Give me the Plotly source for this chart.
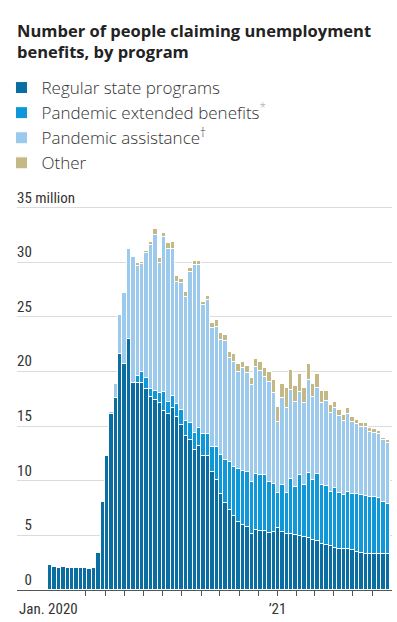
import pandas as pd
import plotly.graph_objects as go

# Week-ending dates (weekly, starting first week of Jan 2020)
weeks = pd.date_range("2020-01-04", periods=78, freq="7D")

regular_state = [2.25, 2.13, 2.0, 2.09, 2.0, 2.0, 2.0, 2.0, 2.0, 1.88,
                 1.97, 3.38, 8.06, 12.3, 16.1, 17.6, 21.6, 20.7, 23.0, 18.92,
                 18.92, 18.92, 18.45, 17.63, 17.39, 17.15, 16.37, 16.16, 16.71, 15.86,
                 15.1, 14.08, 13.72, 12.86, 13.17, 12.25, 12.25, 10.81, 10.05, 8.83,
                 7.97, 7.29, 6.74, 6.22, 5.92, 5.77, 5.15, 5.46, 5.37, 5.37,
                 5.21, 5.31, 5.7, 5.31, 5.15, 5.15, 5.0, 4.91, 4.85, 4.79,
                 4.6, 4.48, 4.18, 4.08, 3.99, 3.87, 3.78, 3.78, 3.72, 3.62,
                 3.47, 3.38, 3.32, 3.26, 3.26, 3.26, 3.26, 3.26]

pandemic_extended = [0, 0, 0, 0, 0, 0, 0, 0, 0, 0,
                     0, 0, 0, 0, 0, 0, 0, 0, 0, 0,
                     0.67, 1.08, 0.98, 0.76, 0.87, 0.85, 1.78, 1.07, 1.08, 1.14,
                     1.37, 1.39, 1.53, 1.53, 1.62, 2.08, 1.99, 2.29, 3.05, 3.51,
                     3.97, 4.44, 4.53, 4.9, 4.98, 5.04, 4.74, 5.2, 5.14, 5.14,
                     4.68, 4.43, 3.18, 4.28, 3.73, 5.05, 4.43, 5.6, 4.74, 5.93,
                     5.45, 6.12, 5.41, 5.45, 4.99, 5.47, 5.1, 4.89, 5.26, 5.2,
                     5.29, 5.29, 5.26, 5.26, 5.26, 5.2, 4.8, 4.58]

pandemic_assistance = [0, 0, 0, 0, 0, 0, 0, 0, 0, 0,
                       0, 0, 0, 0, 0.2, 1.25, 3.6, 6.5, 8.2, 11.53,
                       10.11, 9.85, 11.41, 13.21, 14.26, 11.98, 14.16, 13.97, 13.46, 11.24,
                       11.62, 11.4, 13.91, 15.38, 14.98, 11.77, 12.32, 10.86, 11.01, 10.56,
                       10.89, 9.48, 9.63, 8.87, 9.39, 9.02, 8.87, 9.78, 9.57, 9.02,
                       9.18, 8.26, 6.52, 7.95, 7.74, 8.1, 7.8, 7.64, 7.55, 8.5,
                       7.64, 7.92, 7.55, 7.8, 7.24, 7.28, 7.04, 6.82, 7.18, 6.52,
                       6.42, 6.27, 6.36, 5.96, 5.9, 5.81, 5.66, 5.63]

other = [0, 0, 0, 0, 0, 0, 0, 0, 0, 0,
         0, 0, 0, 0, 0, 0, 0, 0, 0.1, 0.15,
         0.2, 0.15, 0.24, 0.31, 0.52, 0.4, 0.37, 0.56, 0.6, 0.52,
         0.37, 0.45, 0.31, 0.4, 0.4, 0.31, 0.37, 0.46, 0.61, 0.6,
         0.52, 0.61, 0.71, 0.7, 0.61, 0.71, 0.61, 0.68, 0.82, 0.76,
         0.92, 1.22, 1.37, 1.31, 1.84, 1.84, 1.47, 1.62, 1.32, 1.47,
         1.16, 1.25, 1.1, 0.91, 0.71, 0.61, 0.55, 0.52, 0.46, 0.52,
         0.43, 0.37, 0.37, 0.31, 0.31, 0.27, 0.24, 0.25]

series_names = ["Regular state programs",
                "Pandemic extended benefits<sup><span style='color:#aaa'>*</span></sup>",
                "Pandemic assistance<sup>†</sup>",
                "Other"]
series_colors = ["#0b6ea3", "#0e97d9", "#9ccaed", "#c4b884"]

y_tick_vals = [0, 5, 10, 15, 20, 25, 30, 35]
y_tick_text = ["\u20070", "\u20075", "10", "15", "20", "25", "30", "35 million"]

x_tick_vals = pd.date_range("2020-01-01", "2021-06-01", freq="MS")
x_tick_text = ["\u201921" if (d.year == 2021 and d.month == 1) else "" for d in x_tick_vals]
first_label_date = "2020-01-01"
first_label_text = "Jan. 2020"

fig = go.Figure()
for name, vals, col in zip(series_names,
                           [regular_state, pandemic_extended, pandemic_assistance, other],
                           series_colors):
    fig.add_trace(go.Bar(x=weeks, y=vals, name=name,
                         marker=dict(color=col, line=dict(color="white", width=1)),
                         hoverinfo="x+y+name"))

TICKFONT = dict(family="Liberation Sans Narrow, Roboto Condensed, DejaVu Sans Condensed, Roboto, sans-serif",
                size=15, color="#333")
TITLEFONT = dict(family="Open Sans, Lato, sans-serif", size=16.5, color="#222")

fig.add_annotation(x=first_label_date, xref="x", y=0, yref="paper",
                   text=first_label_text, showarrow=False, xanchor="center",
                   yanchor="top", yshift=-8, font=TICKFONT)

fig.update_layout(
    width=397, height=622,
    margin=dict(l=17, r=5, t=175, b=32, pad=0, autoexpand=False),
    paper_bgcolor="white", plot_bgcolor="white",
    barmode="stack", bargap=0,
    title=dict(text="<b>Number of people claiming unemployment<br>benefits, by program</b>",
               font=TITLEFONT,
               x=0, xref="paper", xanchor="left", y=1 - 37 / 622, yanchor="top", yref="container"),
    legend=dict(orientation="v", traceorder="normal",
                xref="container", x=1.5 / 397, xanchor="left",
                yref="container", y=1 - 70 / 622, yanchor="top", bgcolor="rgba(0,0,0,0)",
                font=dict(family="Open Sans, Lato, sans-serif", size=17, color="#333", weight=300),
                itemclick=False, itemdoubleclick=False, tracegroupgap=0),
    xaxis=dict(type="date", range=["2019-11-12 01:30", "2021-07-02 20:30"],
               tickvals=x_tick_vals, ticktext=x_tick_text,
               ticks="outside", ticklen=5, tickcolor="#555", tickwidth=1,
               showline=True, linecolor="#555", linewidth=1,
               showgrid=False, zeroline=False, tickfont=TICKFONT, fixedrange=True),
    yaxis=dict(range=[0, 38], tickvals=y_tick_vals, ticktext=y_tick_text,
               ticklabelposition="inside top", ticklabelstandoff=-3,
               showgrid=True, gridcolor="#dcdcdc",
               gridwidth=1, zeroline=False, showline=False, ticks="",
               tickfont=TICKFONT, fixedrange=True),
)

fig.write_html("out.html", config={"displayModeBar": False},
               post_script="document.body.style.margin='0';")
